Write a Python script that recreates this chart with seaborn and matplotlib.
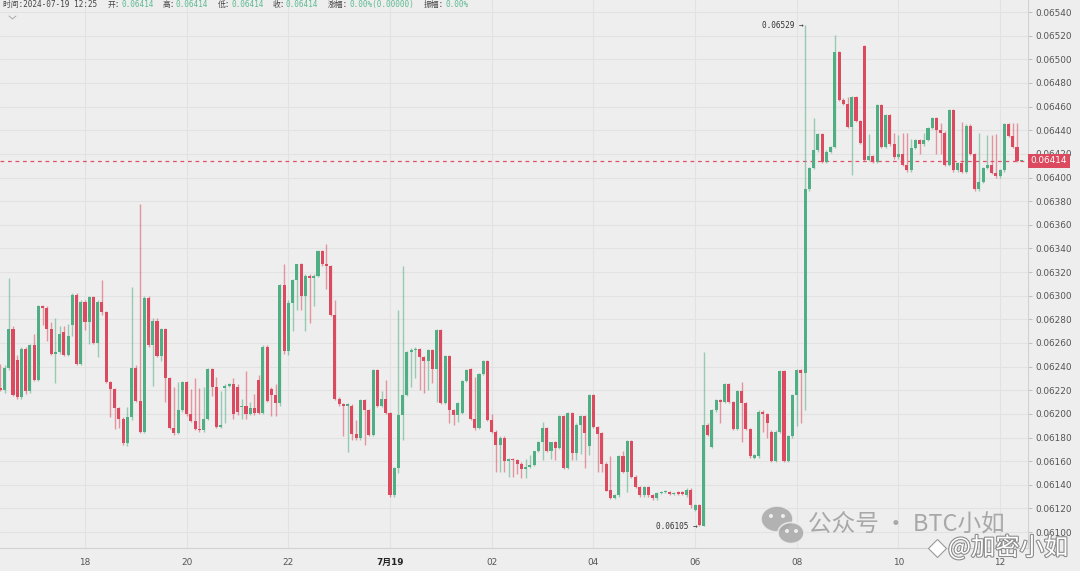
import numpy as np
import pandas as pd
import matplotlib
matplotlib.use("Agg")
import matplotlib.pyplot as plt
import matplotlib.transforms as mtransforms
import matplotlib.patheffects as pe
from matplotlib.patches import Ellipse
from matplotlib.lines import Line2D
import seaborn as sns

# 5-minute candles, prices in units of 1e-5
start_time = "2024-07-18 16:20"

open_px = [
    6222, 6220, 6239, 6272, 6246, 6214, 6255, 6219, 6258, 6229,
    6291, 6290, 6272, 6251, 6252, 6269, 6250, 6275, 6301, 6242,
    6295, 6278, 6299, 6260, 6295, 6286, 6227, 6221, 6205, 6196,
    6175, 6197, 6239, 6211, 6185, 6298, 6258, 6279, 6249, 6272,
    6230, 6188, 6184, 6203, 6227, 6200, 6194, 6187, 6186, 6196,
    6238, 6223, 6189, 6222, 6224, 6225, 6223, 6206, 6207, 6200,
    6205, 6229, 6201, 6257, 6221, 6216, 6209, 6309, 6253, 6294,
    6313, 6327, 6300, 6317, 6315, 6317, 6338, 6327, 6325, 6284,
    6213, 6208, 6207, 6207, 6183, 6180, 6212, 6203, 6182, 6237,
    6207, 6213, 6201, 6131, 6154, 6199, 6216, 6252, 6254, 6255,
    6248, 6245, 6254, 6238, 6271, 6209, 6249, 6203, 6199, 6201,
    6228, 6238, 6196, 6188, 6234, 6245, 6195, 6185, 6174, 6180,
    6160, 6162, 6161, 6158, 6153, 6155, 6157, 6169, 6176, 6188,
    6169, 6176, 6171, 6198, 6154, 6201, 6167, 6191, 6198, 6173,
    6216, 6189, 6184, 6158, 6136, 6129, 6131, 6164, 6151, 6177,
    6147, 6138, 6131, 6138, 6131, 6129, 6133, 6134, 6134, 6132,
    6134, 6134, 6131, 6136, 6119, 6123, 6105, 6191, 6172, 6203,
    6212, 6210, 6225, 6210, 6187, 6219, 6209, 6187, 6163, 6164,
    6202, 6200, 6185, 6160, 6185, 6236, 6160, 6181, 6216, 6237,
    6235, 6390, 6408, 6423, 6437, 6413, 6422, 6426, 6506, 6466,
    6462, 6443, 6468, 6448, 6511, 6415, 6418, 6413, 6461, 6426,
    6453, 6428, 6417, 6420, 6411, 6406, 6425, 6432, 6428, 6432,
    6442, 6450, 6440, 6438, 6411, 6457, 6406, 6412, 6405, 6444,
    6420, 6390, 6396, 6408, 6411, 6404, 6401, 6406, 6445, 6435,
    6426, 6414,
]
high_px = [
    6242, 6241, 6315, 6274, 6250, 6257, 6257, 6259, 6268, 6292,
    6292, 6291, 6278, 6281, 6274, 6274, 6276, 6302, 6302, 6296,
    6296, 6300, 6300, 6296, 6313, 6287, 6228, 6222, 6206, 6197,
    6206, 6307, 6241, 6378, 6300, 6300, 6281, 6281, 6273, 6273,
    6231, 6223, 6227, 6228, 6228, 6221, 6230, 6222, 6223, 6239,
    6239, 6231, 6219, 6225, 6226, 6230, 6225, 6213, 6236, 6210,
    6217, 6233, 6258, 6258, 6223, 6225, 6310, 6327, 6296, 6314,
    6327, 6328, 6318, 6318, 6318, 6339, 6339, 6344, 6326, 6296,
    6214, 6209, 6209, 6208, 6195, 6213, 6213, 6204, 6238, 6238,
    6219, 6229, 6202, 6155, 6288, 6325, 6253, 6256, 6257, 6256,
    6249, 6255, 6255, 6272, 6272, 6250, 6250, 6204, 6210, 6229,
    6238, 6239, 6231, 6235, 6246, 6246, 6200, 6186, 6181, 6181,
    6163, 6163, 6162, 6159, 6162, 6165, 6169, 6177, 6193, 6189,
    6176, 6177, 6199, 6199, 6202, 6202, 6192, 6199, 6199, 6217,
    6217, 6190, 6185, 6159, 6164, 6132, 6165, 6169, 6178, 6178,
    6148, 6139, 6139, 6139, 6132, 6134, 6135, 6136, 6135, 6134,
    6135, 6135, 6137, 6137, 6124, 6124, 6252, 6192, 6204, 6213,
    6213, 6226, 6226, 6211, 6220, 6227, 6210, 6188, 6166, 6203,
    6203, 6201, 6186, 6186, 6237, 6237, 6182, 6217, 6238, 6238,
    6529, 6409, 6450, 6438, 6438, 6423, 6427, 6521, 6507, 6467,
    6468, 6469, 6469, 6449, 6512, 6437, 6419, 6462, 6462, 6454,
    6454, 6438, 6436, 6438, 6438, 6433, 6433, 6433, 6438, 6443,
    6451, 6451, 6446, 6439, 6458, 6458, 6413, 6447, 6445, 6445,
    6421, 6438, 6409, 6436, 6436, 6437, 6407, 6446, 6446, 6446,
    6446, 6414,
]
low_px = [
    6219, 6218, 6237, 6215, 6213, 6213, 6217, 6218, 6228, 6228,
    6275, 6262, 6250, 6226, 6251, 6249, 6249, 6266, 6241, 6241,
    6271, 6259, 6259, 6248, 6284, 6226, 6197, 6187, 6188, 6174,
    6173, 6195, 6210, 6184, 6184, 6257, 6224, 6248, 6245, 6210,
    6187, 6182, 6183, 6202, 6198, 6193, 6186, 6185, 6185, 6195,
    6215, 6188, 6188, 6192, 6223, 6196, 6199, 6196, 6196, 6199,
    6199, 6200, 6200, 6210, 6198, 6198, 6207, 6251, 6250, 6270,
    6288, 6288, 6270, 6277, 6291, 6316, 6325, 6306, 6283, 6212,
    6207, 6181, 6168, 6178, 6178, 6178, 6174, 6181, 6181, 6206,
    6206, 6200, 6130, 6130, 6150, 6178, 6215, 6223, 6230, 6220,
    6218, 6220, 6226, 6210, 6208, 6208, 6192, 6191, 6193, 6200,
    6227, 6195, 6186, 6187, 6233, 6194, 6184, 6151, 6151, 6151,
    6147, 6147, 6149, 6146, 6146, 6154, 6156, 6168, 6161, 6168,
    6162, 6161, 6170, 6153, 6153, 6161, 6161, 6166, 6154, 6165,
    6188, 6151, 6151, 6135, 6128, 6128, 6130, 6150, 6134, 6146,
    6137, 6130, 6130, 6130, 6127, 6127, 6132, 6133, 6131, 6131,
    6131, 6131, 6130, 6120, 6118, 6105, 6105, 6181, 6171, 6202,
    6192, 6209, 6209, 6186, 6186, 6176, 6186, 6163, 6162, 6163,
    6185, 6180, 6159, 6159, 6184, 6159, 6159, 6180, 6190, 6192,
    6203, 6389, 6407, 6422, 6412, 6412, 6421, 6425, 6465, 6461,
    6442, 6402, 6447, 6428, 6414, 6414, 6412, 6412, 6425, 6425,
    6427, 6416, 6416, 6410, 6405, 6405, 6424, 6420, 6427, 6431,
    6441, 6420, 6420, 6410, 6410, 6405, 6405, 6404, 6404, 6419,
    6389, 6389, 6395, 6407, 6403, 6400, 6400, 6405, 6434, 6425,
    6413, 6414,
]
close_px = [
    6220, 6239, 6272, 6216, 6214, 6255, 6219, 6258, 6229, 6291,
    6290, 6272, 6251, 6252, 6268, 6250, 6266, 6301, 6242, 6295,
    6278, 6299, 6260, 6295, 6286, 6227, 6221, 6205, 6196, 6175,
    6197, 6239, 6211, 6185, 6298, 6258, 6279, 6249, 6272, 6230,
    6188, 6184, 6203, 6227, 6200, 6194, 6187, 6186, 6196, 6238,
    6223, 6189, 6191, 6224, 6225, 6200, 6202, 6207, 6200, 6205,
    6201, 6201, 6257, 6211, 6216, 6209, 6309, 6253, 6294, 6313,
    6327, 6300, 6317, 6315, 6317, 6338, 6327, 6325, 6284, 6213,
    6208, 6207, 6208, 6183, 6180, 6212, 6203, 6182, 6237, 6207,
    6213, 6201, 6131, 6154, 6199, 6216, 6252, 6254, 6255, 6248,
    6245, 6254, 6238, 6271, 6209, 6249, 6203, 6199, 6209, 6228,
    6237, 6196, 6188, 6234, 6245, 6195, 6185, 6174, 6180, 6160,
    6162, 6161, 6158, 6153, 6155, 6157, 6169, 6176, 6188, 6169,
    6176, 6171, 6198, 6154, 6201, 6167, 6191, 6198, 6184, 6216,
    6189, 6183, 6158, 6135, 6129, 6131, 6164, 6151, 6177, 6147,
    6138, 6131, 6138, 6131, 6129, 6133, 6134, 6135, 6132, 6133,
    6132, 6132, 6136, 6123, 6123, 6106, 6191, 6182, 6203, 6212,
    6210, 6225, 6210, 6187, 6219, 6209, 6187, 6164, 6165, 6202,
    6200, 6192, 6160, 6185, 6236, 6160, 6181, 6216, 6237, 6235,
    6390, 6408, 6423, 6437, 6413, 6422, 6426, 6506, 6466, 6462,
    6443, 6468, 6448, 6429, 6415, 6418, 6413, 6461, 6426, 6453,
    6428, 6417, 6420, 6411, 6406, 6425, 6432, 6428, 6432, 6442,
    6450, 6440, 6438, 6411, 6457, 6406, 6412, 6405, 6444, 6420,
    6390, 6396, 6408, 6411, 6404, 6401, 6406, 6445, 6435, 6426,
    6414, 6414,
]

tick_times = ["2024-07-18 18:00", "2024-07-18 20:00", "2024-07-18 22:00",
              "2024-07-19 00:00", "2024-07-19 02:00", "2024-07-19 04:00",
              "2024-07-19 06:00", "2024-07-19 08:00", "2024-07-19 10:00",
              "2024-07-19 12:00"]
tick_labels = ["18", "20", "22", "7月19", "02", "04", "06", "08", "10", "12"]

GREEN = "#4fae84"
RED = "#dc4a5f"
BG = "#eeeeee"

sns.set_theme(style="white")
plt.rcParams["font.family"] = ["DejaVu Sans", "Noto Sans CJK SC"]
MONO = ["DejaVu Sans Mono", "Noto Sans CJK SC"]
CJK = ["Noto Sans CJK SC", "DejaVu Sans"]

df = pd.DataFrame({
    "time": pd.date_range(start_time, periods=len(open_px), freq="5min"),
    "open": np.array(open_px) / 1e5,
    "high": np.array(high_px) / 1e5,
    "low": np.array(low_px) / 1e5,
    "close": np.array(close_px) / 1e5,
})
step = 5 / 1440
df["x"] = matplotlib.dates.date2num(df["time"])
df["up"] = df["close"] >= df["open"]
colors = np.where(df["up"], GREEN, RED)

W, H = 1080, 571
fig = plt.figure(figsize=(W / 100, H / 100), dpi=100, facecolor=BG)
ax = fig.add_axes([0, 1 - 548 / H, 1028 / W, 548 / H], facecolor=BG)

# wicks and bodies
ax.vlines(df["x"], df["low"], df["high"], colors=colors, lw=1.0, alpha=0.55, zorder=2)
body_bottom = np.minimum(df["open"], df["close"])
body_h = np.maximum(np.abs(df["close"] - df["open"]), 0.0000045)
ax.bar(df["x"], body_h, bottom=body_bottom, width=step * 0.72, color=colors,
       lw=0, zorder=3)

x0 = df["x"].iloc[0]
ax.set_xlim(x0 - 0.066 * step, x0 + 242.6 * step)
ax.set_ylim(0.060865, 0.065502)

ax.yaxis.tick_right()
yt = np.arange(6100, 6541, 20) / 1e5
ax.set_yticks(yt)
ax.set_yticklabels([f"{v:.5f}" for v in yt])
ax.tick_params(axis="y", length=3, width=0.6, color="#b8b8b8", pad=2,
               labelsize=6.4, labelcolor="#555555")
ax.set_xticks(matplotlib.dates.date2num(pd.to_datetime(tick_times)))
ax.set_xticklabels(tick_labels)
ax.tick_params(axis="x", length=0, pad=7, labelsize=6.4, labelcolor="#555555")
for lab in ax.get_xticklabels():
    if "月" in lab.get_text():
        lab.set_color("#222222")
        lab.set_fontweight("bold")

ax.grid(True, color="#e2e2e2", lw=0.8, zorder=0)
ax.set_axisbelow(True)
for side in ["top", "left"]:
    ax.spines[side].set_visible(False)
ax.spines["right"].set_color("#d2d2d2")
ax.spines["bottom"].set_color("#d2d2d2")
ax.spines["right"].set_linewidth(0.8)
ax.spines["bottom"].set_linewidth(0.8)

# last price line and label
last = df["close"].iloc[-1]
ax.axhline(last, color="#e0506a", lw=0.9, ls=(0, (3, 3)), zorder=1)
trans = mtransforms.blended_transform_factory(ax.transAxes, ax.transData)
ax.text(1.0025, last, f"{last:.5f}", transform=trans, ha="left", va="center",
        color="white", fontsize=6.4, clip_on=False, zorder=10,
        bbox=dict(boxstyle="square,pad=0.3", fc=RED, ec="none"))

# high / low markers
hi = int(np.argmax(df["high"]))
lo = int(np.argmin(df["low"]))
ax.annotate(f"{df['high'].iloc[hi]:.5f} →", xy=(df["x"].iloc[hi], df["high"].iloc[hi]),
            xytext=(-1, 0), textcoords="offset points", ha="right", va="center",
            fontsize=5.6, family=MONO, color="#333333", zorder=6)
ax.annotate(f"{df['low'].iloc[lo]:.5f} →", xy=(df["x"].iloc[lo], df["low"].iloc[lo]),
            xytext=(-1, 0), textcoords="offset points", ha="right", va="center",
            fontsize=5.6, family=MONO, color="#333333", zorder=6)

# header line
ty = 1 - 4.5 / H
t_last = df["time"].iloc[-1]
row = df.iloc[-1]
hdr = [
    (3, "时间:" + t_last.strftime("%Y-%m-%d %H:%M"), "#444444"),
    (108, "开:", "#444444"), (121, f"{row['open']:.5f}", "#5dbb90"),
    (163, "高:", "#444444"), (176, f"{row['high']:.5f}", "#5dbb90"),
    (218, "低:", "#444444"), (231, f"{row['low']:.5f}", "#5dbb90"),
    (273, "收:", "#444444"), (286, f"{row['close']:.5f}", "#5dbb90"),
    (328, "涨幅:", "#444444"), (350, "0.00%(0.00000)", "#5dbb90"),
    (424, "振幅:", "#444444"), (446, "0.00%", "#5dbb90"),
]
for px, txt, col in hdr:
    fig.text(px / W, ty, txt, ha="left", va="center", fontsize=5.6,
             family=MONO, color=col)
fig.add_artist(Line2D([9 / W, 12.5 / W, 16 / W], [1 - 16 / H, 1 - 19 / H, 1 - 16 / H],
                      color="#aaaaaa", lw=0.7))

# watermarks
for (cx, cy, w, h) in [(777, 519, 32, 26), (791, 533, 26, 21)]:
    fig.add_artist(Ellipse((cx / W, 1 - cy / H), w / W, h / H, fc="#a8a8a8",
                           ec=BG, lw=1.2, alpha=0.85))
for (cx, cy) in [(771, 516), (783, 516), (787, 531), (796, 531)]:
    fig.add_artist(Ellipse((cx / W, 1 - cy / H), 4 / W, 4 / H, fc=BG, ec="none"))
fig.text(808 / W, 1 - 525 / H, "公众号 · BTC小如", ha="left", va="center",
         fontsize=17, family=CJK, color="#9c9c9c", alpha=0.85)
fig.add_artist(Line2D([937 / W], [1 - 548 / H], marker="D", ms=9, mfc="white",
                      mec="#9a9a9a", mew=0.8))
fig.text(948 / W, 1 - 548 / H, "@加密小如", ha="left", va="center", fontsize=17.5,
         family=CJK, color="white",
         path_effects=[pe.withStroke(linewidth=1.6, foreground="#8c8c8c")])

fig.savefig("out.png", dpi=100, facecolor=BG)
